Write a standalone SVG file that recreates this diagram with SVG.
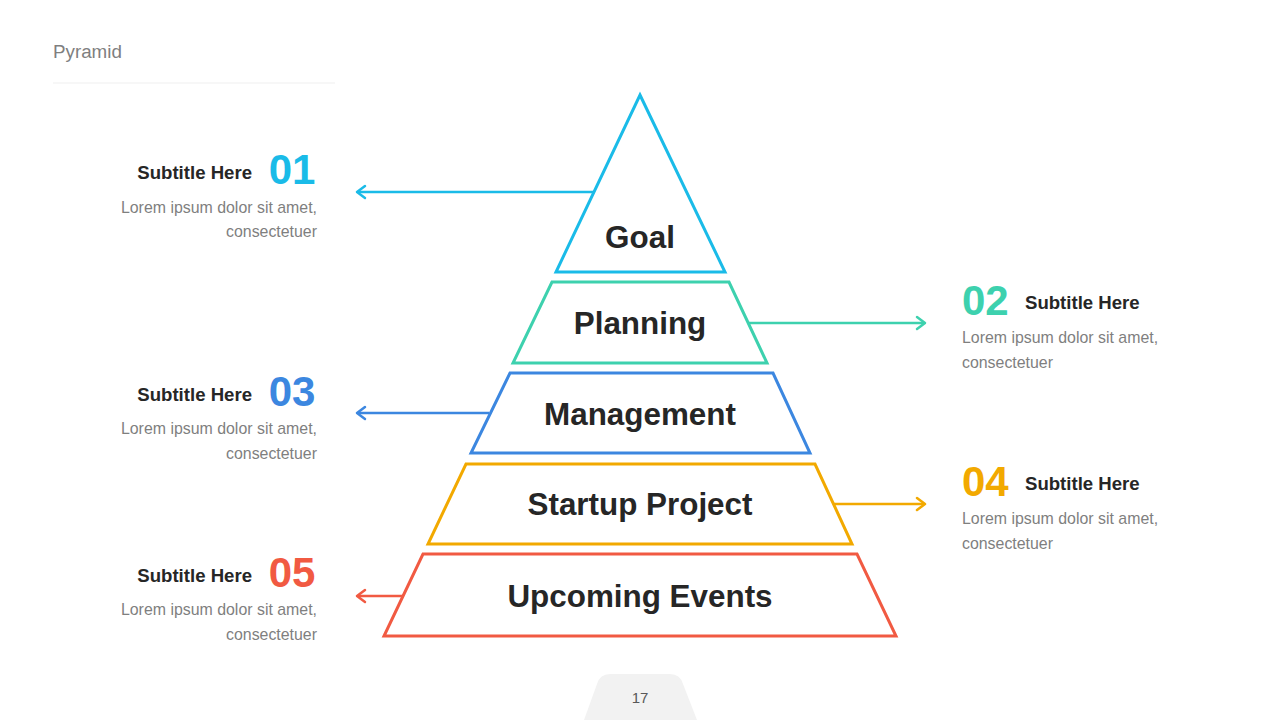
<svg xmlns="http://www.w3.org/2000/svg" width="1280" height="720" viewBox="0 0 1280 720">
<defs>
<style>
.lvl{fill:#fff;stroke-width:3;stroke-linejoin:miter}
.lbl{font-family:"Liberation Sans",Arial,sans-serif;font-weight:bold;font-size:31.4px;fill:#262626;text-anchor:middle}
.sub{font-family:"Liberation Sans",Arial,sans-serif;font-weight:bold;font-size:18.6px;fill:#262626}
.num{font-family:"Liberation Sans",Arial,sans-serif;font-weight:bold;font-size:42px}
.body{font-family:"Liberation Sans",Arial,sans-serif;font-size:15.9px;fill:#7f7f7f}
.conn{fill:none;stroke-width:2.5}
.head{fill:none;stroke-width:2.5;stroke-linecap:round;stroke-linejoin:round}
</style>
</defs>
<rect width="1280" height="720" fill="#fff"/>
<text x="53" y="58" font-family="Liberation Sans, Arial, sans-serif" font-size="18.8" fill="#7f7f7f">Pyramid</text>
<line x1="53" y1="83" x2="335" y2="83" stroke="#f0f0f0" stroke-width="1.2"/>

<g id="connectors">
<line class="conn" x1="594" y1="192" x2="358" y2="192" stroke="#1ABBE8"/>
<polyline class="head" points="365,186 357,192 365,198" stroke="#1ABBE8"/>
<line class="conn" x1="749" y1="323" x2="924" y2="323" stroke="#3DD1AE"/>
<polyline class="head" points="917,317 925,323 917,329" stroke="#3DD1AE"/>
<line class="conn" x1="489" y1="413" x2="358" y2="413" stroke="#3C87E0"/>
<polyline class="head" points="365,407 357,413 365,419" stroke="#3C87E0"/>
<line class="conn" x1="834" y1="504" x2="924" y2="504" stroke="#F2A900"/>
<polyline class="head" points="917,498 925,504 917,510" stroke="#F2A900"/>
<line class="conn" x1="404" y1="596" x2="358" y2="596" stroke="#F15A42"/>
<polyline class="head" points="365,590 357,596 365,602" stroke="#F15A42"/>
</g>

<g id="goal">
<polygon class="lvl" points="640,95 725,272 556,272" stroke="#1ABBE8"/>
<text class="lbl" x="640" y="248">Goal</text>
</g>
<g id="planning">
<polygon class="lvl" points="552,282 729,282 767,363 513,363" stroke="#3DD1AE"/>
<text class="lbl" x="640" y="334">Planning</text>
</g>
<g id="management">
<polygon class="lvl" points="510,373 773,373 810,453 471,453" stroke="#3C87E0"/>
<text class="lbl" x="640" y="425">Management</text>
</g>
<g id="startup">
<polygon class="lvl" points="466,464 815,464 852,544 428,544" stroke="#F2A900"/>
<text class="lbl" x="640" y="515">Startup Project</text>
</g>
<g id="upcoming">
<polygon class="lvl" points="423,554 857,554 896,636 384,636" stroke="#F15A42"/>
<text class="lbl" x="640" y="607">Upcoming Events</text>
</g>

<g id="item01">
<text class="sub" x="252" y="179" text-anchor="end">Subtitle Here</text>
<text class="num" x="292" y="184" text-anchor="middle" fill="#1ABBE8">01</text>
<text class="body" x="317" y="213" text-anchor="end">Lorem ipsum dolor sit amet,</text>
<text class="body" x="317" y="237" text-anchor="end">consectetuer</text>
</g>
<g id="item02">
<text class="num" x="962" y="315" fill="#3DD1AE">02</text>
<text class="sub" x="1025" y="309">Subtitle Here</text>
<text class="body" x="962" y="343">Lorem ipsum dolor sit amet,</text>
<text class="body" x="962" y="368">consectetuer</text>
</g>
<g id="item03">
<text class="sub" x="252" y="401" text-anchor="end">Subtitle Here</text>
<text class="num" x="292" y="406" text-anchor="middle" fill="#3C87E0">03</text>
<text class="body" x="317" y="434" text-anchor="end">Lorem ipsum dolor sit amet,</text>
<text class="body" x="317" y="459" text-anchor="end">consectetuer</text>
</g>
<g id="item04">
<text class="num" x="962" y="496" fill="#F2A900">04</text>
<text class="sub" x="1025" y="490">Subtitle Here</text>
<text class="body" x="962" y="524">Lorem ipsum dolor sit amet,</text>
<text class="body" x="962" y="549">consectetuer</text>
</g>
<g id="item05">
<text class="sub" x="252" y="582" text-anchor="end">Subtitle Here</text>
<text class="num" x="292" y="587" text-anchor="middle" fill="#F15A42">05</text>
<text class="body" x="317" y="615" text-anchor="end">Lorem ipsum dolor sit amet,</text>
<text class="body" x="317" y="640" text-anchor="end">consectetuer</text>
</g>

<g id="page">
<path d="M584,720 L597,684 Q600,674 610,674 L670,674 Q680,674 683,684 L697,720 Z" fill="#f2f2f2"/>
<text x="640" y="703" text-anchor="middle" font-family="Liberation Sans, Arial, sans-serif" font-size="15" fill="#595959">17</text>
</g>
</svg>
